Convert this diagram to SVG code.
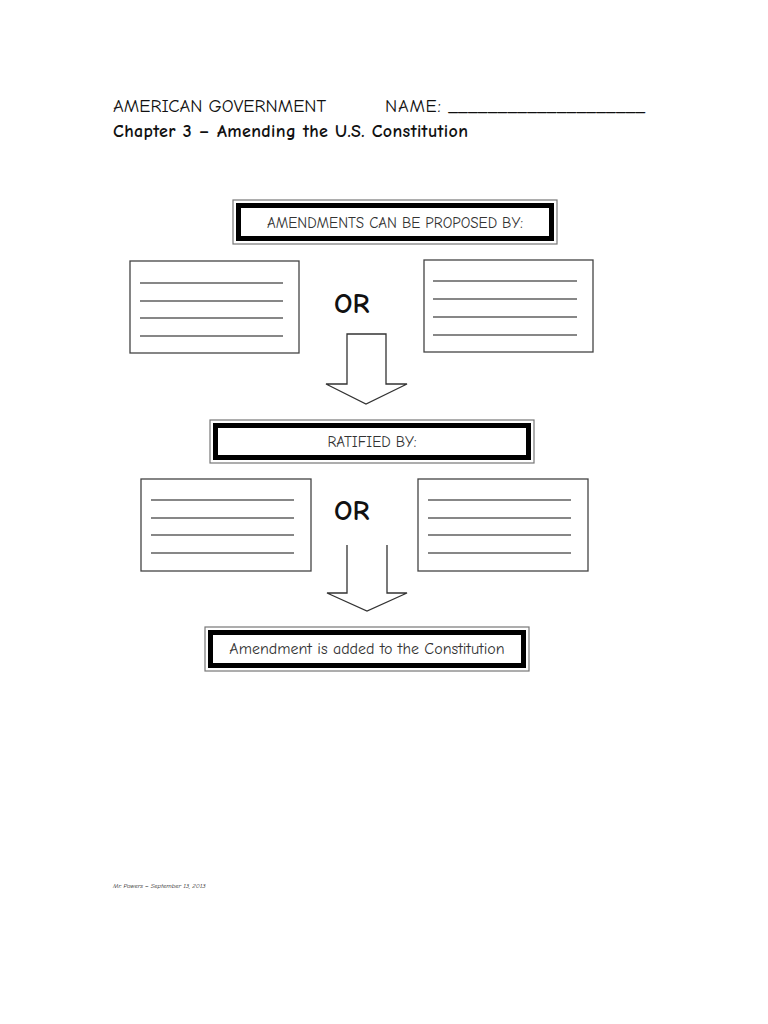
<svg xmlns="http://www.w3.org/2000/svg" width="768" height="1024" viewBox="0 0 768 1024">
<style>
text{font-family:"Comic Neue","Liberation Sans",sans-serif;fill:#111}
.box{fill:#fff;stroke:#444;stroke-width:1.3}
.ln{stroke:#111;stroke-width:1.2}
.outer{fill:#fff;stroke:#777;stroke-width:1.2}
.frame{fill:#fff;stroke:#000;stroke-width:5}
.arrow{fill:#fff;stroke:#333;stroke-width:1.3}
.lbl{font-size:15px;text-anchor:middle;fill:#333}
.or{font-size:29px;font-weight:bold}
</style>
<rect width="768" height="1024" fill="#fff"/>
<text x="113" y="112" font-size="18.5">AMERICAN GOVERNMENT</text>
<text x="385" y="112" font-size="18.5" textLength="260">NAME: ____________________</text>
<text x="113" y="137" font-size="18" font-weight="bold" textLength="355">Chapter 3 – Amending the U.S. Constitution</text>
<g id="proposed">
<rect class="outer" x="233" y="200" width="324" height="44"/>
<rect class="frame" x="238.5" y="205.5" width="313" height="33"/>
<text class="lbl" x="395" y="228">AMENDMENTS CAN BE PROPOSED BY:</text>
</g>
<g id="prop-left">
<rect class="box" x="130" y="261" width="169" height="92"/>
<path class="ln" d="M140 283H283M140 301H283M140 318H283M140 336H283"/>
</g>
<g id="prop-right">
<rect class="box" x="424" y="260" width="169" height="92"/>
<path class="ln" d="M433 281H577M433 299H577M433 317H577M433 335H577"/>
</g>
<text class="or" x="334" y="313">OR</text>
<g id="ratified">
<rect class="outer" x="210" y="420" width="324" height="43"/>
<rect class="frame" x="215.5" y="425.5" width="313" height="32"/>
<text class="lbl" x="372" y="447">RATIFIED BY:</text>
</g>
<g id="rat-left">
<rect class="box" x="141" y="479" width="170" height="92"/>
<path class="ln" d="M151 500H294M151 518H294M151 535H294M151 553H294"/>
</g>
<g id="rat-right">
<rect class="box" x="418" y="479" width="170" height="92"/>
<path class="ln" d="M428 500H571M428 518H571M428 535H571M428 553H571"/>
</g>
<text class="or" x="334" y="520">OR</text>
<g id="added">
<rect class="outer" x="205" y="627" width="324" height="44"/>
<rect class="frame" x="210.5" y="632.5" width="313" height="33"/>
<text class="lbl" x="367" y="654" style="font-size:16px">Amendment is added to the Constitution</text>
</g>
<g id="connectors">
<path class="arrow" d="M347 334H386V384H407L366 404L326 384H347Z"/>
<path class="arrow" d="M347 545V593H327L367 611L407 593H387V545"/>
</g>
<text x="113" y="888" font-size="6.5" font-style="italic">Mr. Powers – September 13, 2013</text>
</svg>
